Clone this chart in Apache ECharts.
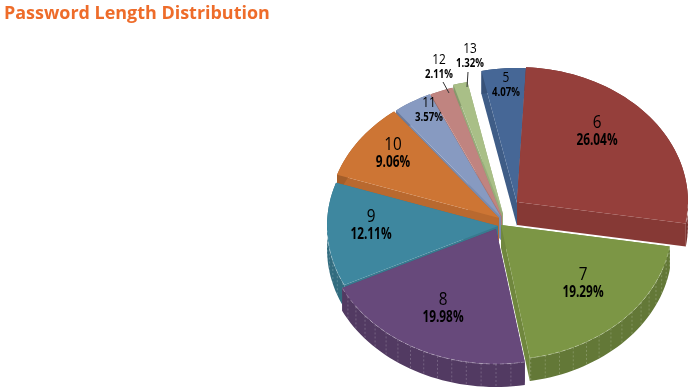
<!DOCTYPE html>
<html>
<head>
<meta charset="utf-8">
<style>
  html, body { margin: 0; padding: 0; background: #fff; }
  #main { width: 694px; height: 389px; }
</style>
<script src="https://cdn.jsdelivr.net/npm/echarts@6/dist/echarts.min.js"></script>
</head>
<body>
<div id="main"></div>
<script>
// data
var lengths = ["5", "6", "7", "8", "9", "10", "11", "12", "13"];
var shares = [4.07, 26.04, 19.29, 19.98, 12.11, 9.06, 3.57, 2.11, 1.32];

// look of each slice, same order as above
var colors = ["#466796", "#953f3b", "#7c9645", "#67497b", "#3e879f", "#cd7534", "#879ac1", "#c08480", "#a9bf87"];
// painter order, back slices first (indexes into the lists above)
var drawOrder = [0, 8, 7, 6, 5, 1, 4, 3, 2];
var explode = [[17, -15], [17, -16], [1, 7], [-4, 11], [-2, 8], [-1, 0], [1, -1], [2, -1], [3, -4]];
var labelAt = [[6, -140], [97, -95], [83, 57], [-57, 82], [-129, -1], [-107, -73], [-71, -115], [-61, -158], [-30, -169]];
var labelBig = [false, true, true, true, true, true, false, false, false];
var leaders = [null, null, null, null, null, null, null, [[-57, -136], [-51, -125]], [[-32, -146], [-33, -131]]];

var cx = 500, cy = 218, rx = 171, ry = 135, depth = 23;
var startAngle = -12;
var total = shares.reduce(function (a, b) { return a + b; }, 0);

function point(ax, ay, deg) {
  var t = deg * Math.PI / 180;
  return [ax + rx * Math.sin(t), ay - ry * Math.cos(t)];
}

function darken(hex, k) {
  var n = parseInt(hex.slice(1), 16);
  var r = Math.round((n >> 16) * (1 - k));
  var g = Math.round(((n >> 8) & 255) * (1 - k));
  var b = Math.round((n & 255) * (1 - k));
  return "rgb(" + r + "," + g + "," + b + ")";
}

function labelText(text, x, y, size, weight, squeeze, z2) {
  return {
    type: "text",
    z2: z2,
    x: x,
    y: y,
    scaleX: squeeze,
    style: {
      x: 0, y: 0, text: text, align: "center", verticalAlign: "middle",
      font: weight + " " + size + 'px "Open Sans"', fill: "#000"
    }
  };
}

function renderSlice(params, api) {
  var i = api.value(0);
  var before = 0;
  for (var k = 0; k < i; k++) before += shares[k];
  var a0 = startAngle + before / total * 360;
  var a1 = a0 + api.value(1) / total * 360;
  var ax = cx + explode[i][0], ay = cy + explode[i][1];
  var order = drawOrder.indexOf(i) * 10;
  var color = colors[i];
  var side = darken(color, 0.2);
  var face = darken(color, 0.1);
  var kids = [];

  var rim = [];
  for (var a = a0; a < a1; a += 2) rim.push(point(ax, ay, a));
  rim.push(point(ax, ay, a1));
  var low = rim.map(function (p) { return [p[0], p[1] + depth]; }).reverse();

  // cut faces
  [rim[0], rim[rim.length - 1]].forEach(function (e) {
    kids.push({
      type: "polygon",
      z2: order,
      shape: { points: [[ax, ay], e, [e[0], e[1] + depth], [ax, ay + depth]] },
      style: { fill: face }
    });
  });
  // outer wall
  kids.push({
    type: "polygon",
    z2: order + 1,
    shape: { points: rim.concat(low) },
    style: { fill: side }
  });
  // wall seams, only on the front half
  for (var s = Math.ceil(a0 / 5) * 5; s < a1; s += 5) {
    var n = ((s % 360) + 360) % 360;
    if (n <= 92 || n >= 268) continue;
    var p = point(ax, ay, s);
    kids.push({
      type: "line",
      z2: order + 2,
      shape: { x1: p[0], y1: p[1], x2: p[0], y2: p[1] + depth },
      style: { stroke: "rgba(255,255,255,0.2)", lineWidth: 1, lineDash: [2, 2] }
    });
  }
  // top
  kids.push({
    type: "polygon",
    z2: order + 3,
    shape: { points: [[ax, ay]].concat(rim) },
    style: { fill: color }
  });
  // dashed rim on the front half
  var front = rim.filter(function (p) { return p[1] > ay; });
  if (front.length > 1) {
    kids.push({
      type: "polyline",
      z2: order + 4,
      shape: { points: front },
      style: { fill: null, stroke: "rgba(255,255,255,0.3)", lineWidth: 1, lineDash: [4, 3] }
    });
  }

  // labels stay above all the slices
  var lx = cx + labelAt[i][0], ly = cy + labelAt[i][1];
  var big = labelBig[i];
  kids.push(labelText(lengths[i], lx, ly, big ? 18 : 14, "normal", 0.85, 200));
  kids.push(labelText(shares[i].toFixed(2) + "%", lx, ly + (big ? 17 : 14), big ? 16 : 13, "bold", 0.74, 200));
  if (leaders[i]) {
    kids.push({
      type: "line",
      z2: 201,
      shape: {
        x1: cx + leaders[i][0][0], y1: cy + leaders[i][0][1],
        x2: cx + leaders[i][1][0], y2: cy + leaders[i][1][1]
      },
      style: { stroke: "#333", lineWidth: 1 }
    });
  }
  return { type: "group", children: kids };
}

var chart = echarts.init(document.getElementById("main"), null, { renderer: "canvas" });
chart.setOption({
  animation: false,
  title: {
    text: "Password Length Distribution",
    left: -1,
    top: 0,
    textStyle: { color: "#ee6c2a", fontFamily: "Open Sans", fontWeight: "bold", fontSize: 17.95 }
  },
  series: [
    {
      type: "custom",
      coordinateSystem: "none",
      renderItem: renderSlice,
      data: shares.map(function (v, i) { return [i, v]; })
    }
  ]
});
</script>
</body>
</html>
